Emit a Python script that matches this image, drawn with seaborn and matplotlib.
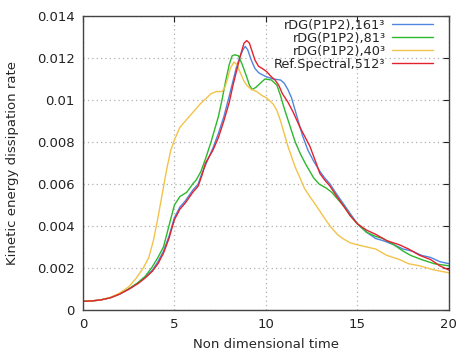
import pandas as pd
import matplotlib
matplotlib.use("Agg")
import matplotlib.pyplot as plt
import seaborn as sns
from matplotlib.ticker import FuncFormatter

# Kinetic energy dissipation rate vs non dimensional time
t_161 = [0, 0.5, 1, 1.5, 2, 2.5, 3, 3.4, 3.8, 4.1, 4.4, 4.7, 5.0, 5.3, 5.6, 6.0, 6.3, 6.5,
         6.7, 6.9, 7.1, 7.4, 7.7, 8.0, 8.2, 8.4, 8.6, 8.75, 8.87, 9.0, 9.2, 9.4, 9.6, 9.8,
         10.04, 10.4, 10.8, 11.0, 11.2, 11.4, 11.7, 12.0, 12.3, 12.6, 12.95, 13.2, 13.5,
         13.8, 14.2, 14.6, 15, 15.5, 16.0, 16.4, 17.0, 17.5, 18.0, 18.5, 19, 19.5, 20]
eps_161 = [0.00041, 0.00043, 0.00048, 0.00058, 0.00075, 0.00099, 0.00127, 0.00155, 0.0019,
           0.0023, 0.0028, 0.0035, 0.0044, 0.0049, 0.0052, 0.0057, 0.0060, 0.0065, 0.0069,
           0.0073, 0.0077, 0.0084, 0.0092, 0.0102, 0.0109, 0.0116, 0.0121, 0.0124, 0.01255,
           0.0124, 0.0119, 0.0115, 0.0113, 0.0112, 0.0111, 0.0110, 0.01095, 0.0108, 0.0105,
           0.0101, 0.0092, 0.0083, 0.0076, 0.0071, 0.0066, 0.0063, 0.0060, 0.0056, 0.0051,
           0.0046, 0.0041, 0.0037, 0.0034, 0.0033, 0.0031, 0.0029, 0.0028, 0.0026, 0.0025,
           0.0023, 0.0022]

t_81 = [0, 0.5, 1, 1.5, 2, 2.5, 3.0, 3.4, 3.75, 4.1, 4.4, 4.7, 5.0, 5.3, 5.67, 6.0, 6.2,
        6.45, 6.7, 7.0, 7.2, 7.4, 7.6, 7.8, 8.0, 8.15, 8.3, 8.5, 8.7, 8.95, 9.1, 9.25, 9.45,
        9.7, 9.95, 10.3, 10.6, 10.8, 11.0, 11.3, 11.6, 11.9, 12.2, 12.6, 12.9, 13.3, 13.6,
        13.9, 14.3, 14.6, 15, 15.5, 16.0, 16.4, 17.0, 17.5, 17.9, 18.5, 19.2, 20]
eps_81 = [0.00041, 0.00043, 0.00048, 0.00058, 0.00076, 0.001, 0.0013, 0.0016, 0.002, 0.0025,
          0.003, 0.0040, 0.0050, 0.0054, 0.0056, 0.0060, 0.0062, 0.0066, 0.0072, 0.0080,
          0.0086, 0.0092, 0.0100, 0.0109, 0.0117, 0.0121, 0.01215, 0.0121, 0.0117, 0.0111,
          0.0107, 0.0105, 0.0106, 0.0108, 0.0110, 0.01095, 0.0107, 0.0102, 0.0096, 0.0088,
          0.0080, 0.0074, 0.0069, 0.0063, 0.0060, 0.0058, 0.0056, 0.0053, 0.0049, 0.0045,
          0.0041, 0.0037, 0.0035, 0.0034, 0.0031, 0.0028, 0.0026, 0.0024, 0.0022, 0.0021]

t_40 = [0, 0.5, 1, 1.5, 2, 2.5, 2.9, 3.3, 3.6, 3.85, 4.1, 4.37, 4.6, 4.8, 5.0, 5.3, 5.6, 6.0,
        6.4, 6.76, 7.0, 7.3, 7.6, 7.76, 7.9, 8.05, 8.25, 8.4, 8.6, 8.8, 8.95, 9.2, 9.5, 9.8,
        10.04, 10.4, 10.6, 10.8, 11.0, 11.2, 11.4, 11.6, 11.86, 12.1, 12.4, 12.8, 13.1, 13.5,
        13.9, 14.2, 14.6, 15, 15.5, 16, 16.6, 17.3, 17.8, 18.4, 19.2, 20]
eps_40 = [0.00041, 0.00043, 0.00048, 0.0006, 0.0008, 0.0011, 0.0015, 0.002, 0.0025, 0.0033,
          0.0044, 0.0057, 0.0068, 0.0076, 0.0081, 0.0087, 0.0090, 0.0094, 0.0098, 0.0101,
          0.0103, 0.0104, 0.0104, 0.0106, 0.0110, 0.0115, 0.0118, 0.0117, 0.0113, 0.0109,
          0.0107, 0.0105, 0.0104, 0.0102, 0.0101, 0.0098, 0.0095, 0.0090, 0.0084, 0.0078,
          0.0073, 0.0068, 0.0063, 0.0058, 0.0054, 0.0049, 0.0045, 0.0040, 0.0036, 0.0034,
          0.0032, 0.0031, 0.0030, 0.0029, 0.0026, 0.0024, 0.0022, 0.0021, 0.0019, 0.00177]

t_ref = [0, 0.5, 1.0, 1.5, 2.0, 2.5, 3.0, 3.4, 3.8, 4.1, 4.4, 4.7, 5.0, 5.3, 5.6, 6.0, 6.3,
         6.5, 6.7, 6.9, 7.1, 7.4, 7.7, 8.0, 8.2, 8.4, 8.6, 8.8, 8.95, 9.1, 9.25, 9.4, 9.6,
         9.8, 10.04, 10.3, 10.5, 10.7, 10.9, 11.2, 11.5, 11.86, 12.1, 12.4, 12.7, 12.95,
         13.2, 13.5, 13.8, 14.2, 14.6, 15.0, 15.5, 16.0, 16.6, 17.3, 17.8, 18.4, 19.0,
         19.5, 20]
eps_ref = [0.00041, 0.00043, 0.00048, 0.00058, 0.00075, 0.00098, 0.00125, 0.00152, 0.00185,
           0.0022, 0.0027, 0.0034, 0.0043, 0.0048, 0.0051, 0.0056, 0.0059, 0.0064, 0.0070,
           0.0073, 0.0076, 0.0082, 0.0090, 0.0099, 0.0107, 0.0114, 0.0121, 0.0127, 0.01283,
           0.0127, 0.0123, 0.0119, 0.0116, 0.0115, 0.01135, 0.0111, 0.01095, 0.0107, 0.0103,
           0.0099, 0.0094, 0.0087, 0.0083, 0.0078, 0.0071, 0.0065, 0.0062, 0.0059, 0.0055,
           0.0050, 0.0045, 0.0041, 0.0038, 0.0036, 0.0033, 0.0031, 0.0029, 0.0026, 0.0024,
           0.0021, 0.0019]

labels = ["rDG(P1P2),161³", "rDG(P1P2),81³", "rDG(P1P2),40³", "Ref.Spectral,512³"]
colors = ["#4f86e0", "#2db82d", "#f2c34a", "#e3222e"]

df = pd.concat([
    pd.DataFrame({"t": t, "eps": e, "case": lab})
    for t, e, lab in zip([t_161, t_81, t_40, t_ref], [eps_161, eps_81, eps_40, eps_ref], labels)
])

sns.set_style("white")
plt.rcParams["font.family"] = ["DejaVu Sans"]

fig = plt.figure(figsize=(4.74, 3.55), dpi=100)
ax = fig.add_axes([0.175, 0.127, 0.772, 0.828])

sns.lineplot(data=df, x="t", y="eps", hue="case", hue_order=labels,
             palette=dict(zip(labels, colors)), estimator=None, sort=False,
             linewidth=1.0, ax=ax)

ax.set_xlim(0, 20)
ax.set_ylim(0, 0.014)
ax.set_xticks([0, 5, 10, 15, 20])
ax.set_yticks([0, 0.002, 0.004, 0.006, 0.008, 0.01, 0.012, 0.014])
ax.yaxis.set_major_formatter(FuncFormatter(lambda v, _: f"{v:g}"))
ax.tick_params(direction="in", length=4, width=0.8, top=True, right=True,
               labelsize=9.5, colors="#222222", pad=6)
ax.grid(True, color="#b0b0b0", linestyle=(0, (1, 2.5)), linewidth=0.9)
for s in ax.spines.values():
    s.set_color("#444444")
    s.set_linewidth(1.0)

ax.set_xlabel("Non dimensional time", fontsize=9.5, labelpad=5)
ax.set_ylabel("Kinetic energy dissipation rate", fontsize=9.5, labelpad=13)

leg = ax.legend(loc="upper right", frameon=False, markerfirst=False, alignment="right",
                fontsize=9.3, handlelength=3.2, labelspacing=0.0, handletextpad=0.5,
                borderpad=0.2, borderaxespad=0.0, bbox_to_anchor=(0.965, 1.0))

fig.savefig("out.png", dpi=100)
